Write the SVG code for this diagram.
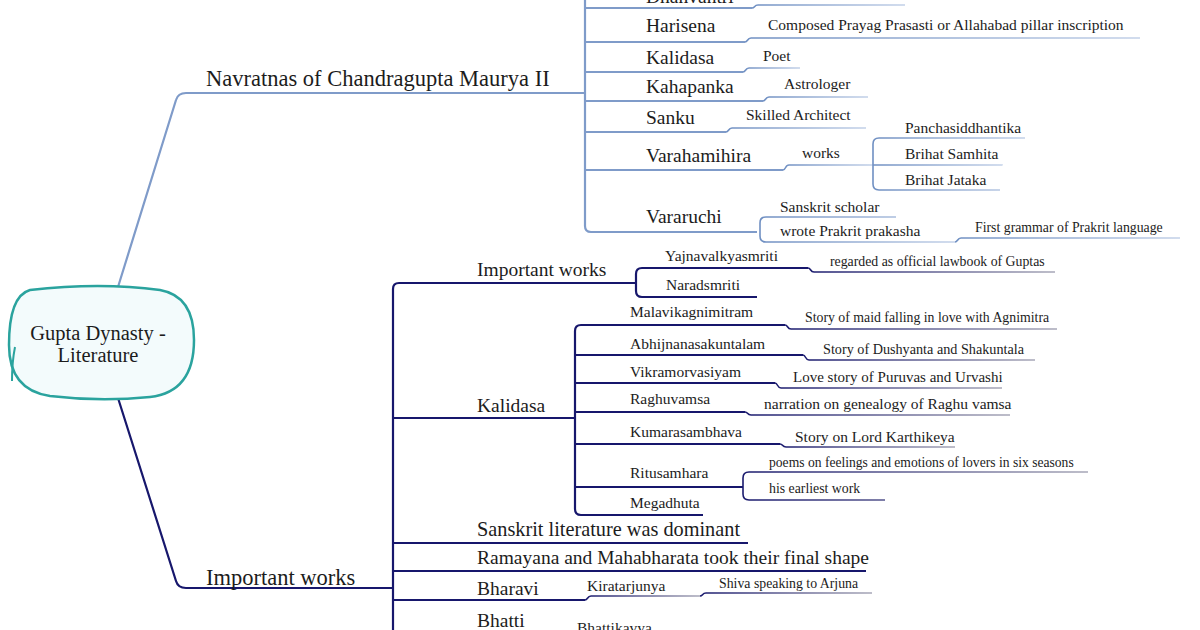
<svg xmlns="http://www.w3.org/2000/svg" width="1200" height="630" viewBox="0 0 1200 630" font-family="'Liberation Serif', 'DejaVu Serif', serif">
<defs>
<linearGradient id="gt" x1="0" y1="0" x2="1" y2="0"><stop offset="0" stop-color="#6f8fc2"/><stop offset="1" stop-color="#c3d1e8"/></linearGradient>
<linearGradient id="gb" x1="0" y1="0" x2="1" y2="0"><stop offset="0" stop-color="#1a1a6e"/><stop offset="1" stop-color="#a8a8b8"/></linearGradient>
<style>
text{font-family:"Liberation Serif","DejaVu Serif",serif;fill:#1c1c1c}
.l1{font-size:22.5px}
.l2{font-size:19.5px}
.l3{font-size:15.5px}
.l4{font-size:13.8px}
.l2b{font-size:19.5px}
.top{fill:none;stroke:#7f9bc9;stroke-width:2.2}
.topd{fill:none;stroke:url(#gt);stroke-width:1.6}
.bot{fill:none;stroke:#17176c;stroke-width:2.2}
.botd{fill:none;stroke:url(#gb);stroke-width:1.6}
</style>
</defs>
<rect width="1200" height="630" fill="#ffffff"/>
<g id="connectors">
<path class="top" d="M118 287 L176 100 Q178 93 186 93 H585"/>
<path class="top" d="M585 -5 V226 Q585 232 591 232 H757"/>
<path class="top" d="M585 8 H752"/>
<path class="topd" d="M752 8 C755 8 754 5 758 5 H905"/>
<path class="top" d="M585 42 H745"/>
<path class="topd" d="M745 42 C748 42 747 38 751 38 H1140"/>
<path class="top" d="M585 72 H743"/>
<path class="topd" d="M743 72 C746 72 745 68 749 68 H800"/>
<path class="top" d="M585 101 H763"/>
<path class="topd" d="M763 101 C766 101 765 97 769 97 H868"/>
<path class="top" d="M585 132 H726"/>
<path class="topd" d="M726 132 C729 132 728 128 732 128 H866"/>
<path class="top" d="M585 170 H783"/>
<path class="topd" d="M783 170 C786 170 785 165 789 165 H873"/>
<path class="topd" d="M1025 138 H879 Q873 138 873 144 V184 Q873 190 879 190 H1000"/>
<path class="topd" d="M873 165 H1002 V165.5"/>
<path class="topd" d="M896 217 H766 Q760 217 760 223 V236 Q760 242 766 242 H955"/>
<path class="topd" d="M955 242 C958 242 957 238 961 238 H1180"/>
<path class="bot" d="M118 398 L176 581 Q178 588 186 588 H393"/>
<path class="bot" d="M393 640 V289 Q393 283 399 283 H636"/>
<path class="bot" d="M808 268 H642 Q636 268 636 274 V291 Q636 297 642 297 H757"/>
<path class="botd" d="M808 268 C811 268 810 272 814 272 H1055"/>
<path class="bot" d="M393 418 H575"/>
<path class="bot" d="M785 325 H581 Q575 325 575 331 V509 Q575 515 581 515 H703"/>
<path class="botd" d="M785 325 C788 325 787 329 791 329 H1057"/>
<path class="bot" d="M575 355 H803"/>
<path class="botd" d="M803 355 C806 355 805 360 809 360 H1035"/>
<path class="bot" d="M575 383 H775"/>
<path class="botd" d="M775 383 C778 383 777 388 781 388 H1002"/>
<path class="bot" d="M575 412 H745"/>
<path class="botd" d="M745 412 C748 412 747 415 751 415 H1010"/>
<path class="bot" d="M575 444 H780"/>
<path class="botd" d="M780 444 C783 444 782 447 786 447 H955"/>
<path class="bot" d="M575 487 H743"/>
<path class="botd" d="M1088 472 H749 Q743 472 743 478 V494 Q743 500 749 500 H885"/>
<path class="bot" d="M393 543 H748"/>
<path class="bot" d="M393 571 H866"/>
<path class="bot" d="M393 600 H585"/>
<path class="botd" d="M585 600 C588 600 587 596 591 596 H700"/>
<path class="botd" d="M700 596 C703 596 702 593 706 593 H872"/>
</g>
<g id="root">
<path d="M30 290 Q100 282 160 290 Q194 296 194 340 Q194 392 150 397 Q100 402 50 396 Q9 390 9 345 Q9 296 30 290 Z" fill="#f3fbfc" stroke="#2aa39e" stroke-width="2.5"/>
<path d="M15 347 Q12 362 12 381" fill="none" stroke="#2aa39e" stroke-width="2"/>
<text x="98" y="340" text-anchor="middle" style="font-size:20.5px">Gupta Dynasty -</text>
<text x="98" y="362" text-anchor="middle" style="font-size:20.5px">Literature</text>
</g>
<g id="navratnas"><text class="l1" x="206" y="86">Navratnas of Chandragupta Maurya II</text></g>
<g id="dhanvantri"><text class="l2" x="646" y="3">Dhanvantri</text></g>
<g id="harisena"><text class="l2" x="646" y="32">Harisena</text><text class="l3" x="768" y="30">Composed Prayag Prasasti or Allahabad pillar inscription</text></g>
<g id="kalidasa1"><text class="l2" x="646" y="64">Kalidasa</text><text class="l3" x="763" y="61">Poet</text></g>
<g id="kahapanka"><text class="l2" x="646" y="93">Kahapanka</text><text class="l3" x="784" y="89">Astrologer</text></g>
<g id="sanku"><text class="l2" x="646" y="124">Sanku</text><text class="l3" x="746" y="120">Skilled Architect</text></g>
<g id="varahamihira"><text class="l2" x="646" y="162">Varahamihira</text><text class="l3" x="802" y="158">works</text>
<text class="l3" x="905" y="133">Panchasiddhantika</text><text class="l3" x="905" y="159">Brihat Samhita</text><text class="l3" x="905" y="185">Brihat Jataka</text></g>
<g id="vararuchi"><text class="l2" x="646" y="223">Vararuchi</text><text class="l3" x="780" y="212">Sanskrit scholar</text><text class="l3" x="780" y="236">wrote Prakrit prakasha</text><text class="l4" x="975" y="232">First grammar of Prakrit language</text></g>
<g id="important"><text class="l1" x="206" y="585">Important works</text></g>
<g id="important2"><text class="l2" x="477" y="276">Important works</text><text class="l3" x="665" y="261">Yajnavalkyasmriti</text><text class="l4" x="830" y="266">regarded as official lawbook of Guptas</text><text class="l3" x="666" y="290">Naradsmriti</text></g>
<g id="kalidasa2"><text class="l2" x="477" y="412">Kalidasa</text>
<text class="l3" x="630" y="317">Malavikagnimitram</text><text class="l4" x="805" y="322">Story of maid falling in love with Agnimitra</text>
<text class="l3" x="630" y="349">Abhijnanasakuntalam</text><text class="l3" x="823" y="354" style="font-size:14.2px">Story of Dushyanta and Shakuntala</text>
<text class="l3" x="630" y="377">Vikramorvasiyam</text><text class="l3" x="793" y="382" style="font-size:15px">Love story of Puruvas and Urvashi</text>
<text class="l3" x="630" y="404">Raghuvamsa</text><text class="l3" x="764" y="409">narration on genealogy of Raghu vamsa</text>
<text class="l3" x="630" y="437">Kumarasambhava</text><text class="l3" x="795" y="442">Story on Lord Karthikeya</text>
<text class="l3" x="630" y="478">Ritusamhara</text><text class="l4" x="769" y="467" style="font-size:13.6px">poems on feelings and emotions of lovers in six seasons</text><text class="l4" x="769" y="493">his earliest work</text>
<text class="l3" x="630" y="508">Megadhuta</text></g>
<g id="sanskrit"><text class="l2b" x="477" y="536" style="font-size:20.3px">Sanskrit literature was dominant</text></g>
<g id="ramayana"><text class="l2b" x="477" y="564">Ramayana and Mahabharata took their final shape</text></g>
<g id="bharavi"><text class="l2b" x="477" y="595">Bharavi</text><text class="l3" x="587" y="591">Kiratarjunya</text><text class="l4" x="719" y="588">Shiva speaking to Arjuna</text></g>
<g id="bhatti"><text class="l2b" x="477" y="627">Bhatti</text><text class="l3" x="577" y="633">Bhattikavya</text></g>
</svg>
